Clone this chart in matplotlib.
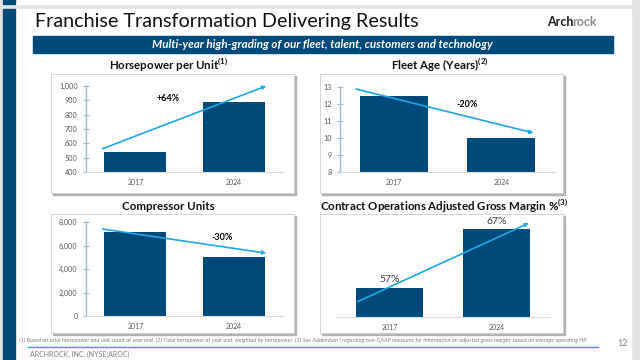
import matplotlib
matplotlib.use("Agg")
import matplotlib.pyplot as plt
from matplotlib.patches import Rectangle
from matplotlib.ticker import FuncFormatter

plt.rcParams['font.family'] = ['Lato', 'DejaVu Sans']
plt.rcParams['mathtext.fontset'] = 'custom'
plt.rcParams['mathtext.rm'] = 'Lato'
plt.rcParams['mathtext.bf'] = 'Lato:bold'

# data
years = ['2017', '2024']
hp_per_unit = [540, 885]
fleet_age = [12.5, 10.0]
compressor_units = [7150, 5000]
gross_margin = [57, 67]
hp_change = '+64%'
age_change = '-20%'
units_change = '-30%'

NAVY = '#004a7a'
CYAN = '#1aa8e6'
GRAY_TXT = '#595959'
AXIS_BLUE = '#9dbbd1'

W, H = 640, 360
fig = plt.figure(figsize=(6.4, 3.6), dpi=100)
fig.patch.set_facecolor('#e3e3e3')


def px(x, y, w, h):
    return [x / W, 1 - (y + h) / H, w / W, h / H]


# background layer in pixel coordinates
bg = fig.add_axes([0, 0, 1, 1])
bg.set_xlim(0, W)
bg.set_ylim(H, 0)
bg.axis('off')

bg.add_patch(Rectangle((3, -2), 628, 6, color='white'))
bg.add_patch(Rectangle((3, -2), 12, 6, color=NAVY))
bg.add_patch(Rectangle((3, 9), 628, 360, color='white'))
bg.add_patch(Rectangle((3, 9), 12, 360, color=NAVY))

bg.text(35, 21, 'Franchise Transformation Delivering Results', fontsize=14.2,
        color='#111111', va='center', ha='left')
bg.text(547, 22, 'Arch', fontsize=9, fontweight='bold', color='#1a1a1a', va='center')
bg.text(572, 22, 'rock', fontsize=9, fontweight='bold', color='#8c8c8c', va='center')

bg.add_patch(Rectangle((33, 36), 580, 17, color=NAVY))
bg.text(322, 44.5, 'Multi-year high-grading of our fleet, talent, customers and technology',
        fontsize=8.4, fontweight='bold', fontstyle='italic', color='white',
        ha='center', va='center')

# panel boxes with a soft shadow
for bx, by in [(51, 74), (320, 74), (51, 214), (320, 214)]:
    bg.add_patch(Rectangle((bx + 2, by + 2), 243, 119, color='#b3b3b3'))
    bg.add_patch(Rectangle((bx, by), 243, 119, facecolor='white', edgecolor='#cfcfcf', lw=0.6))

title_kw = dict(fontsize=8.3, fontweight='bold', color='#111111', ha='center', va='center')
bg.text(169, 65, r'Horsepower per Unit$^{\mathbf{(1)}}$', **title_kw)
bg.text(440, 65, r'Fleet Age (Years)$^{\mathbf{(2)}}$', **title_kw)
bg.text(168, 206, 'Compressor Units', **title_kw)
bg.text(444, 206, r'Contract Operations Adjusted Gross Margin %$^{\mathbf{(3)}}$', **title_kw)

footnote = ('(1) Based on total horsepower and unit count at year end. (2) Total horsepower at year end, '
            'weighted by horsepower. (3) See Addendum I regarding non-GAAP measures for information on '
            'adjusted gross margin; based on average operating HP.')
bg.text(19, 340, footnote, fontsize=4.1, fontstyle='italic', color='#7f7f7f', va='center')
bg.plot([28, 598], [347, 347], color=CYAN, lw=1)
bg.text(30, 354, 'ARCHROCK, INC. (NYSE:AROC)', fontsize=5, color='#7f7f7f', va='center')
bg.text(623, 343, '12', fontsize=6.5, color='#7f7f7f', va='center', ha='center')


def style_axes(ax, show_y=True):
    ax.patch.set_alpha(0)
    ax.set_xlim(-0.5, 1.5)
    for s in ['top', 'right']:
        ax.spines[s].set_visible(False)
    ax.spines['bottom'].set_color('#d9d9d9')
    ax.spines['bottom'].set_linewidth(0.8)
    ax.set_xticks([0, 1])
    ax.set_xticklabels(years)
    ax.tick_params(axis='x', length=0, labelsize=5, labelcolor=GRAY_TXT, pad=5)
    if show_y:
        ax.spines['left'].set_color(AXIS_BLUE)
        ax.spines['left'].set_linewidth(1)
        ax.tick_params(axis='y', direction='inout', length=4, width=0.8, color=AXIS_BLUE,
                       labelsize=5.2, labelcolor=GRAY_TXT, pad=4)
    else:
        ax.spines['left'].set_visible(False)
        ax.set_yticks([])


def arrow(ax, start, end):
    ax.annotate('', xy=end, xytext=start,
                arrowprops=dict(arrowstyle='-|>', color=CYAN, lw=1.2,
                                mutation_scale=5, shrinkA=0, shrinkB=0))


comma = FuncFormatter(lambda v, p: f'{v:,.0f}')
bar_w = 0.63

ax1 = fig.add_axes(px(86, 86, 197, 86))
ax1.bar([0, 1], hp_per_unit, width=bar_w, color=NAVY, zorder=2)
ax1.set_ylim(400, 1000)
ax1.set_yticks(range(400, 1001, 100))
ax1.yaxis.set_major_formatter(comma)
style_axes(ax1)
arrow(ax1, (-0.33, 563), (1.33, 1000))
ax1.text(0.33, 915, hp_change, fontsize=6.5, fontweight='bold', ha='center', va='center')

ax2 = fig.add_axes(px(340, 87, 215, 85))
ax2.bar([0, 1], fleet_age, width=bar_w, color=NAVY, zorder=2)
ax2.set_ylim(8, 13)
ax2.set_yticks(range(8, 14))
style_axes(ax2)
arrow(ax2, (-0.35, 12.88), (1.3, 10.3))
ax2.text(0.68, 11.95, age_change, fontsize=6.5, fontweight='bold', ha='center', va='center')

ax3 = fig.add_axes(px(86, 222, 197, 94))
ax3.bar([0, 1], compressor_units, width=bar_w, color=NAVY, zorder=2)
ax3.set_ylim(0, 8000)
ax3.set_yticks(range(0, 8001, 2000))
ax3.yaxis.set_major_formatter(comma)
style_axes(ax3)
arrow(ax3, (-0.33, 7400), (1.33, 5350))
ax3.text(0.88, 6700, units_change, fontsize=6.5, fontweight='bold', ha='center', va='center')

ax4 = fig.add_axes(px(336, 222, 214, 95))
ax4.bar([0, 1], gross_margin, width=bar_w, color=NAVY, zorder=2)
ax4.set_ylim(52, 68.2)
style_axes(ax4, show_y=False)
for i, v in enumerate(gross_margin):
    ax4.text(i, v + 0.6, f'{v}%', fontsize=7.5, color='#404040', ha='center', va='bottom')
arrow(ax4, (-0.3, 54.6), (1.3, 68.0))

fig.savefig('out.png', dpi=100, facecolor=fig.get_facecolor())
